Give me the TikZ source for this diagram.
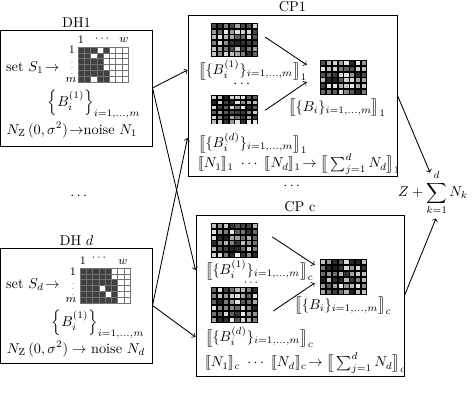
\documentclass[tikz,border=0pt]{standalone}
\usepackage{amsmath}
\usepackage{stmaryrd}
\usetikzlibrary{calc}
\tikzset{
  panel/.style   = {draw, line width=0.7pt, inner sep=0pt},
  title/.style   = {above, inner sep=1.5pt},
  bitcell/.style = {draw=black!55, line width=0.3pt},
  slot/.style    = {inner sep=0pt, minimum width=32.9pt},
  arr/.style     = {->, line width=0.6pt},
  small/.style   = {font=\footnotesize, inner sep=0pt},
}
% binary matrix: x0, y0, rows
\newcommand{\bitgrid}[3]{%
  \foreach \row [count=\rw] in {#3} {
    \foreach \v [count=\col] in \row {
      \draw[bitcell, fill=black!\v] ({#1+(\col-1)*6.25},{#2+(\rw-1)*5.8}) rectangle ++(6.25,5.8);
    }
  }}
% shared grey matrix: name, x0, y0, cell height
\newcommand{\graymat}[4]{%
  \fill ({#2},{#3}) rectangle ++(47,{6*#4});
  \foreach \col in {0,...,7} {
    \foreach \rw in {0,...,5} {
      \pgfmathrandominteger{\gv}{8}{88}
      \fill[black!\gv] ({#2+\col*5.875+0.9},{#3+\rw*#4+0.9}) rectangle ++(4.1,{#4-1.8});
    }
  }
  \node[slot, minimum height={4.2pt*#4}] (#1) at ({#2+23.5},{#3+3*#4}) {};}

\begin{document}
\begin{tikzpicture}[x=0.7pt, y=-0.7pt, >=to]
  \useasboundingbox (0,0) rectangle (474,402);
  \pgfmathsetseed{42}

  % data holders
  \node[panel, minimum width=105.7pt, minimum height=81.2pt] (dh1) at (76.5,88) {};
  \node[title] at (dh1.north) {DH1};
  \bitgrid{78}{47}{{75,75,75,0,75,0,0,0},{75,75,0,75,0,0,0,0},{75,75,75,75,0,0,0,0},
                   {75,75,75,75,0,0,0,0},{75,75,75,75,75,0,0,0},{75,75,0,75,75,0,0,0}}
  \node[small] at (81,40) {1};
  \node[small] at (103,39) {$\cdots$};
  \node[small] at (124,40) {$w$};
  \node[small] at (72,50) {1};
  \node[small, font=\tiny] at (72,64) {$\vdots$};
  \node[small] at (71,80) {$m$};
  \node[anchor=west] (set1) at (1,68) {set $S_1\!\rightarrow$};
  \node (bits1) at (94,104) {$\left\{B_i^{(1)}\right\}_{i=1,\ldots,m}$};
  \node (noise1) at (72,130) {$N_{\mathrm{Z}}\,(0,\sigma^2)\!\rightarrow$noise $N_1$};

  \node at (80,196) {$\cdots$};

  \node[panel, minimum width=105.7pt, minimum height=80.5pt] (dhd) at (76.5,305.5) {};
  \node[title] at (dhd.north) {DH $d$};
  \bitgrid{80}{268}{{75,75,75,75,75,0,0,0},{75,75,75,75,75,0,0,0},{75,75,75,75,75,75,0,0},
                    {75,75,75,0,75,75,0,0},{75,75,75,75,0,75,0,0},{75,75,75,75,75,75,0,0}}
  \node[small] at (83,261) {1};
  \node[small] at (100,258) {$\cdots$};
  \node[small] at (123,262) {$w$};
  \node[small] at (73,272) {1};
  \node[small, font=\tiny] at (73,285) {$\vdots$};
  \node[small] at (71,300) {$m$};
  \node[anchor=west] (setd) at (1,285) {set $S_d\!\rightarrow$};
  \node (bitsd) at (98,324) {$\left\{B_i^{(1)}\right\}_{i=1,\ldots,m}$};
  \node (noised) at (76,349) {$N_{\mathrm{Z}}\,(0,\sigma^2)\rightarrow$ noise $N_d$};

  % computing parties
  \node[panel, minimum width=146.3pt, minimum height=112.7pt] (cp1) at (292.5,95.5) {};
  \node[title] at (cp1.north) {CP1};
  \graymat{bone1}{211}{23}{5.7}
  \graymat{bone2}{211}{95}{4.9}
  \graymat{bsum1}{320}{60}{5.8}
  \node[anchor=west] (lb11) at (193,70) {$\big\llbracket\{B_i^{(1)}\}_{i=1,\ldots,m}\big\rrbracket_1$};
  \node at (243,84) {$\cdots$};
  \node[anchor=west] (lb12) at (193,143) {$\big\llbracket\{B_i^{(d)}\}_{i=1,\ldots,m}\big\rrbracket_1$};
  \node (lbs1) at (337,108) {$\big\llbracket\{B_i\}_{i=1,\ldots,m}\big\rrbracket_1$};
  \node[anchor=west] (nz1) at (193,164) {$\llbracket N_1\rrbracket_1\ \cdots\ \llbracket N_d\rrbracket_1\!\rightarrow\big\llbracket\sum_{j=1}^{d}N_d\big\rrbracket_1$};

  \node at (293,186) {$\cdots$};

  \node[panel, minimum width=145.6pt, minimum height=112.7pt] (cpc) at (300,295.5) {};
  \node[title] at (cpc.north) {CP c};
  \graymat{bonec}{211}{223}{5.8}
  \graymat{btwoc}{211}{287}{6}
  \graymat{bsumc}{320}{259}{6}
  \node[anchor=west] (lbc1) at (200,270) {$\big\llbracket\{B_i^{(1)}\}_{i=1,\ldots,m}\big\rrbracket_c$};
  \node[small] at (252,283) {$\cdots$};
  \node[anchor=west] (lbc2) at (200,337) {$\big\llbracket\{B_i^{(d)}\}_{i=1,\ldots,m}\big\rrbracket_c$};
  \node (lbsc) at (343,306) {$\big\llbracket\{B_i\}_{i=1,\ldots,m}\big\rrbracket_c$};
  \node[anchor=west] (nzc) at (200,363) {$\llbracket N_1\rrbracket_c\ \cdots\ \llbracket N_d\rrbracket_c\!\rightarrow\big\llbracket\sum_{j=1}^{d}N_d\big\rrbracket_c$};

  % result
  \node (total) at (433,193) {$\displaystyle Z+\sum_{k=1}^{d}N_k$};

  % shares sent out
  \draw[arr] (dh1.east) -- (cp1.west |- lb11);
  \draw[arr] (dh1.east) -- (cpc.west |- lbc1);
  \draw[arr] (dhd.east) -- ($(cp1.west |- lb12)+(0,-5)$);
  \draw[arr] (dhd.east) -- (cpc.west |- lbc2);
  % local sums
  \draw[arr] ($(bone1.east)+(7,-3)$) -- ($(bsum1.west)+(-13,-12.5)$);
  \draw[arr] ($(bone2.east)+(7,0.5)$) -- ($(bsum1.west)+(-13,4.5)$);
  \draw[arr] ($(bonec.east)+(14,-3.5)$) -- ($(bsumc.west)+(-5,-12)$);
  \draw[arr] ($(btwoc.east)+(15,6)$) -- ($(bsumc.west)+(-5,6)$);
  \draw[arr] (cp1.east) -- ($(total.north)+(-3,7)$);
  \draw[arr] (cpc.east) -- ($(total.south)+(3,-2)$);
\end{tikzpicture}
\end{document}
